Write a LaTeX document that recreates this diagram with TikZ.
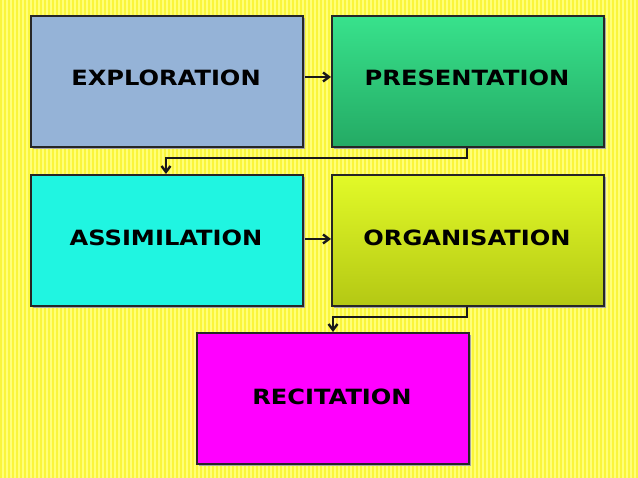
\documentclass[tikz,border=0pt]{standalone}
\usepackage{fontspec}
\setmainfont{DejaVu Sans}
\usetikzlibrary{arrows.meta}
\definecolor{bgA}{RGB}{255,255,120}
\definecolor{bgB}{RGB}{250,245,60}
\definecolor{cExp}{RGB}{149,179,215}
\definecolor{cPreT}{RGB}{56,226,140}
\definecolor{cPreB}{RGB}{36,170,100}
\definecolor{cAss}{RGB}{32,245,225}
\definecolor{cOrgT}{RGB}{226,250,40}
\definecolor{cOrgB}{RGB}{180,200,20}
\definecolor{cRec}{RGB}{255,0,255}
\begin{document}
\begin{tikzpicture}[x=1pt,y=-1pt,
  box/.style={draw=black!85,line width=1.8pt,minimum width=272pt,minimum height=131pt,anchor=north west,inner sep=0pt},
  lbl/.style={font=\fontsize{21}{22}\selectfont\bfseries,xscale=1.15,text=black},
  conn/.style={draw=black!90,line width=2.4pt,-{Straight Barb[length=6pt,width=9pt]}}]
\fill[bgA] (0,0) rectangle (638,478);
\foreach \i in {0,4,...,636} \fill[bgB] (\i,0) rectangle (\i+1.5,478);
\foreach \x/\y in {30/15,331/15,30/174,331/174,196/332}
  \fill[black!35] (\x+3,\y+3) rectangle (\x+275,\y+134);
\node[box,fill=cExp] (exp) at (30,15) {};
\node[box,top color=cPreT,bottom color=cPreB] (pre) at (331,15) {};
\node[box,fill=cAss] (ass) at (30,174) {};
\node[box,top color=cOrgT,bottom color=cOrgB] (org) at (331,174) {};
\node[box,fill=cRec] (rec) at (196,332) {};
\node[lbl] (texp) at (166,78) {EXPLORATION};
\node[lbl] (tpre) at (467,78) {PRESENTATION};
\node[lbl] (tass) at (166,238) {ASSIMILATION};
\node[lbl] (torg) at (467,238) {ORGANISATION};
\node[lbl] (trec) at (332,397) {RECITATION};
\coordinate (e1) at (305,77);
\draw[conn] (e1) -- (pre.west|-e1);
\coordinate (a1) at (305,239);
\draw[conn] (a1) -- (org.west|-a1);
\draw[conn] (pre.south-|467,0) |- (166,158) -- (ass.north-|166,0);
\draw[conn] (org.south-|467,0) |- (333,317) -- (rec.north-|333,0);
\end{tikzpicture}
\end{document}
